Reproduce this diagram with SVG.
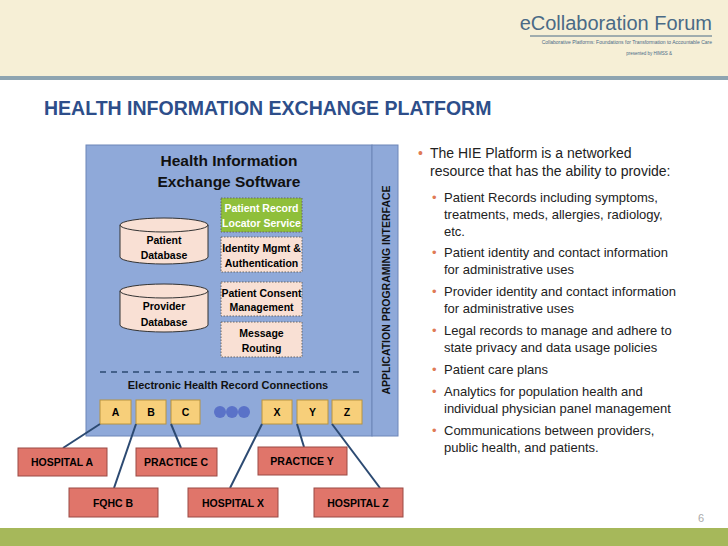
<svg xmlns="http://www.w3.org/2000/svg" width="728" height="546" viewBox="0 0 728 546">
<style>
text{font-family:"Liberation Sans",Arial,sans-serif}
.b{font-weight:bold}
.svc{fill:#f9e0d4;stroke:#666;stroke-dasharray:1.5 1.5}
.db{fill:#f9e0d4;stroke:#333;stroke-width:1}
.ehr{fill:#f7cf7a;stroke:#b89440}
.org{fill:#e0756a;stroke:#9a4a44}
.con line{stroke:#2c4a72;stroke-width:2}
.r{font-size:13px;fill:#222}
.bul{fill:#e07a55}
.s{font-size:10.5px;font-weight:bold;text-anchor:middle}
</style>
<rect width="728" height="76" fill="#f6efd6"/>
<rect y="76" width="728" height="4" fill="#8ea4b0"/>
<text x="712" y="30" font-size="20" fill="#4a6a86" text-anchor="end">eCollaboration Forum</text>
<line x1="530" y1="36" x2="712" y2="36" stroke="#4a6a86"/>
<text x="712" y="44" font-size="5" fill="#4a6a86" text-anchor="end">Collaborative Platforms: Foundations for Transformation to Accountable Care</text>
<text x="672" y="55" font-size="4.5" fill="#4a6a86" text-anchor="end">presented by HIMSS &amp;</text>
<text x="44" y="115" font-size="19.5" class="b" fill="#2d4e8a">HEALTH INFORMATION EXCHANGE PLATFORM</text>
<rect x="0" y="528" width="728" height="18" fill="#a6b85a"/>
<text x="704" y="522" font-size="11" fill="#aaa" text-anchor="end">6</text>

<g id="hie">
<rect x="86" y="145" width="286" height="291" fill="#8fa9d9" stroke="#6d86b8"/>
<text x="229" y="166" font-size="15.5" class="b" text-anchor="middle" fill="#111">Health Information</text>
<text x="229" y="187" font-size="15.5" class="b" text-anchor="middle" fill="#111">Exchange Software</text>
</g>
<g id="api">
<rect x="372" y="145" width="26" height="291" fill="#8fa9d9" stroke="#6d86b8"/>
<text transform="translate(390,290) rotate(-90)" font-size="10.5" class="b" text-anchor="middle" fill="#111">APPLICATION  PROGRAMING  INTERFACE</text>
</g>
<g id="prls"><rect x="221" y="198" width="81" height="34" fill="#8fbf3a" stroke="#666" stroke-dasharray="1.5 1.5"/>
<text x="261.5" y="212" class="s" fill="#fff">Patient Record</text>
<text x="261.5" y="227" class="s" fill="#fff">Locator Service</text></g>
<g id="idm"><rect class="svc" x="221" y="237" width="81" height="35"/>
<text x="261.5" y="252" class="s">Identity Mgmt &amp;</text>
<text x="261.5" y="267" class="s">Authentication</text></g>
<g id="pcm"><rect class="svc" x="221" y="282" width="81" height="34"/>
<text x="261.5" y="297" class="s">Patient Consent</text>
<text x="261.5" y="311" class="s">Management</text></g>
<g id="mr"><rect class="svc" x="221" y="322" width="81" height="35"/>
<text x="261.5" y="337" class="s">Message</text>
<text x="261.5" y="352" class="s">Routing</text></g>
<g id="pdb"><path class="db" d="M120,225 V257 A44,7 0 0 0 208,257 V225 A44,7 0 0 0 120,225 Z M120,225 A44,7 0 0 0 208,225"/>
<text x="164" y="244" class="s">Patient</text>
<text x="164" y="259" class="s">Database</text></g>
<g id="prdb"><path class="db" d="M120,291 V325 A44,7 0 0 0 208,325 V291 A44,7 0 0 0 120,291 Z M120,291 A44,7 0 0 0 208,291"/>
<text x="164" y="310" class="s">Provider</text>
<text x="164" y="326" class="s">Database</text></g>
<line x1="100" y1="372" x2="362" y2="372" stroke="#2c4a72" stroke-width="1.5" stroke-dasharray="6 5"/>
<text x="228" y="389" font-size="11" class="b" text-anchor="middle" fill="#111">Electronic Health Record Connections</text>
<g id="ehr">
<rect class="ehr" x="100" y="400" width="31" height="24"/><text x="115.5" y="416" class="s">A</text>
<rect class="ehr" x="136" y="400" width="30" height="24"/><text x="151" y="416" class="s">B</text>
<rect class="ehr" x="171" y="400" width="29" height="24"/><text x="185.5" y="416" class="s">C</text>
<circle cx="220" cy="412" r="6" fill="#5a72c8"/><circle cx="232" cy="412" r="6" fill="#5a72c8"/><circle cx="244" cy="412" r="6" fill="#5a72c8"/>
<rect class="ehr" x="262" y="400" width="30" height="24"/><text x="277" y="416" class="s">X</text>
<rect class="ehr" x="297" y="400" width="31" height="24"/><text x="312.5" y="416" class="s">Y</text>
<rect class="ehr" x="332" y="400" width="30" height="24"/><text x="347" y="416" class="s">Z</text>
</g>
<g id="connectors" class="con">
<line x1="100" y1="424" x2="63" y2="448"/>
<line x1="136" y1="424" x2="114" y2="488"/>
<line x1="171" y1="424" x2="181" y2="448"/>
<line x1="262" y1="424" x2="230" y2="488"/>
<line x1="297" y1="424" x2="304" y2="447"/>
<line x1="332" y1="424" x2="380" y2="488"/>
</g>
<g id="hospA"><rect class="org" x="18" y="448" width="89" height="28"/><text x="62" y="466" class="s">HOSPITAL A</text></g>
<g id="pracC"><rect class="org" x="136" y="448" width="81" height="28"/><text x="176" y="466" class="s">PRACTICE C</text></g>
<g id="pracY"><rect class="org" x="258" y="447" width="89" height="28"/><text x="302" y="465" class="s">PRACTICE Y</text></g>
<g id="fqhcB"><rect class="org" x="69" y="488" width="89" height="29"/><text x="113" y="507" class="s">FQHC B</text></g>
<g id="hospX"><rect class="org" x="188" y="488" width="90" height="29"/><text x="233" y="507" class="s">HOSPITAL X</text></g>
<g id="hospZ"><rect class="org" x="314" y="488" width="89" height="29"/><text x="358" y="507" class="s">HOSPITAL Z</text></g>
<g id="bullets">
<text x="418" y="158" font-size="14" class="bul">•</text>
<text x="430" y="158" font-size="14" fill="#222">The HIE Platform is a networked</text>
<text x="430" y="176" font-size="14" fill="#222">resource that has the ability to provide:</text>
<g class="r">
<text x="432" y="202" class="bul">•</text><text x="444" y="202">Patient Records including symptoms,</text>
<text x="444" y="219">treatments, meds, allergies, radiology,</text>
<text x="444" y="236">etc.</text>
<text x="432" y="257" class="bul">•</text><text x="444" y="257">Patient identity and contact information</text>
<text x="444" y="274">for administrative uses</text>
<text x="432" y="296" class="bul">•</text><text x="444" y="296">Provider identity and contact information</text>
<text x="444" y="313">for administrative uses</text>
<text x="432" y="335" class="bul">•</text><text x="444" y="335">Legal records to manage and adhere to</text>
<text x="444" y="352">state privacy and data usage policies</text>
<text x="432" y="374" class="bul">•</text><text x="444" y="374">Patient care plans</text>
<text x="432" y="396" class="bul">•</text><text x="444" y="396">Analytics for population health and</text>
<text x="444" y="413">individual physician panel management</text>
<text x="432" y="435" class="bul">•</text><text x="444" y="435">Communications between providers,</text>
<text x="444" y="452">public health, and patients.</text>
</g>
</g>
</svg>
